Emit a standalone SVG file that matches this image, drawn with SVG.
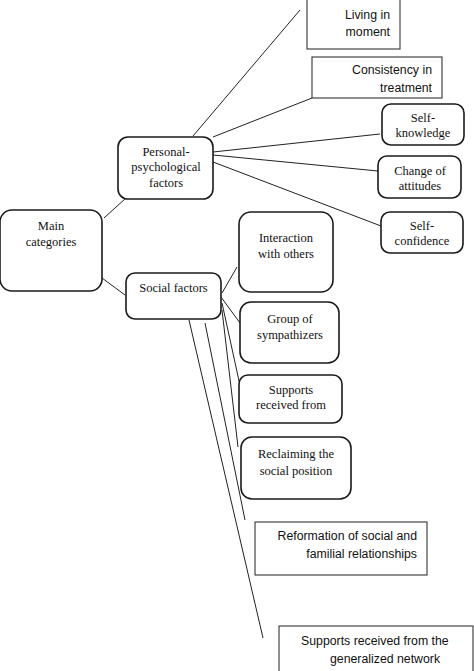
<svg xmlns="http://www.w3.org/2000/svg" width="474" height="671" viewBox="0 0 474 671">
<style>
.rb{fill:#fff;stroke:#1a1a1a;stroke-width:1.6}
.sq{fill:#fff;stroke:#333;stroke-width:1.1}
.se{font-family:"Liberation Serif","Times New Roman",serif;font-size:12.5px;fill:#111;text-anchor:middle}
.sa{font-family:"Liberation Sans",Arial,sans-serif;font-size:12.3px;fill:#111}
.r{text-anchor:end}
#connectors line{stroke:#222;stroke-width:1}
</style>
<rect width="474" height="671" fill="#fff"/>
<g id="connectors">
<line x1="193" y1="136" x2="300" y2="10"/>
<line x1="213" y1="137" x2="312" y2="98"/>
<line x1="213" y1="152" x2="380" y2="134"/>
<line x1="213" y1="155" x2="378" y2="171"/>
<line x1="213" y1="162" x2="381" y2="226"/>
<line x1="104" y1="218" x2="126" y2="198"/>
<line x1="102" y1="278" x2="125" y2="295"/>
<line x1="222" y1="293" x2="237" y2="267"/>
<line x1="221" y1="297" x2="240" y2="323"/>
<line x1="222" y1="303" x2="241" y2="390"/>
<line x1="222" y1="310" x2="238" y2="447"/>
<line x1="205" y1="323" x2="245" y2="520"/>
<line x1="189" y1="320" x2="263" y2="638"/>
</g>
<g id="living">
<rect class="sq" x="307" y="-2" width="93" height="51"/>
<text class="sa r" x="390" y="19">Living in</text>
<text class="sa r" x="390" y="36">moment</text>
</g>
<g id="consistency">
<rect class="sq" x="312" y="57" width="130" height="41"/>
<text class="sa r" x="432" y="74">Consistency in</text>
<text class="sa r" x="432" y="92">treatment</text>
</g>
<g id="personal">
<rect class="rb" x="118" y="137" width="95" height="62" rx="10"/>
<text class="se" x="166" y="156">Personal-</text>
<text class="se" x="166" y="171">psychological</text>
<text class="se" x="166" y="187">factors</text>
</g>
<g id="selfknowledge">
<rect class="rb" x="382" y="104" width="82" height="41" rx="9"/>
<text class="se" x="423" y="122">Self-</text>
<text class="se" x="423" y="137">knowledge</text>
</g>
<g id="change">
<rect class="rb" x="378" y="156" width="83" height="42" rx="9"/>
<text class="se" x="420" y="175">Change of</text>
<text class="se" x="420" y="190">attitudes</text>
</g>
<g id="selfconfidence">
<rect class="rb" x="381" y="212" width="82" height="41" rx="9"/>
<text class="se" x="422" y="230">Self-</text>
<text class="se" x="422" y="245">confidence</text>
</g>
<g id="main">
<rect class="rb" x="0" y="210" width="102" height="81" rx="12"/>
<text class="se" x="51" y="230">Main</text>
<text class="se" x="51" y="246">categories</text>
</g>
<g id="interaction">
<rect class="rb" x="239" y="212" width="94" height="80" rx="12"/>
<text class="se" x="286" y="242">Interaction</text>
<text class="se" x="286" y="258">with others</text>
</g>
<g id="social">
<rect class="rb" x="126" y="273" width="95" height="46" rx="9"/>
<text class="se" x="173.5" y="292">Social factors</text>
</g>
<g id="group">
<rect class="rb" x="240" y="302" width="99" height="61" rx="11"/>
<text class="se" x="290" y="323">Group of</text>
<text class="se" x="290" y="339">sympathizers</text>
</g>
<g id="supports">
<rect class="rb" x="239" y="375" width="103" height="48" rx="9"/>
<text class="se" x="291" y="394">Supports</text>
<text class="se" x="291" y="409">received from</text>
</g>
<g id="reclaiming">
<rect class="rb" x="241" y="437" width="110" height="62" rx="11"/>
<text class="se" x="296" y="458">Reclaiming the</text>
<text class="se" x="296" y="475">social position</text>
</g>
<g id="reformation">
<rect class="sq" x="255" y="522" width="172" height="53"/>
<text class="sa r" x="417" y="540">Reformation of social and</text>
<text class="sa r" x="417" y="558">familial relationships</text>
</g>
<g id="generalized">
<rect class="sq" x="279" y="626" width="194" height="48"/>
<text class="sa" x="301" y="645">Supports received from the</text>
<text class="sa" x="330" y="663">generalized network</text>
</g>
</svg>
